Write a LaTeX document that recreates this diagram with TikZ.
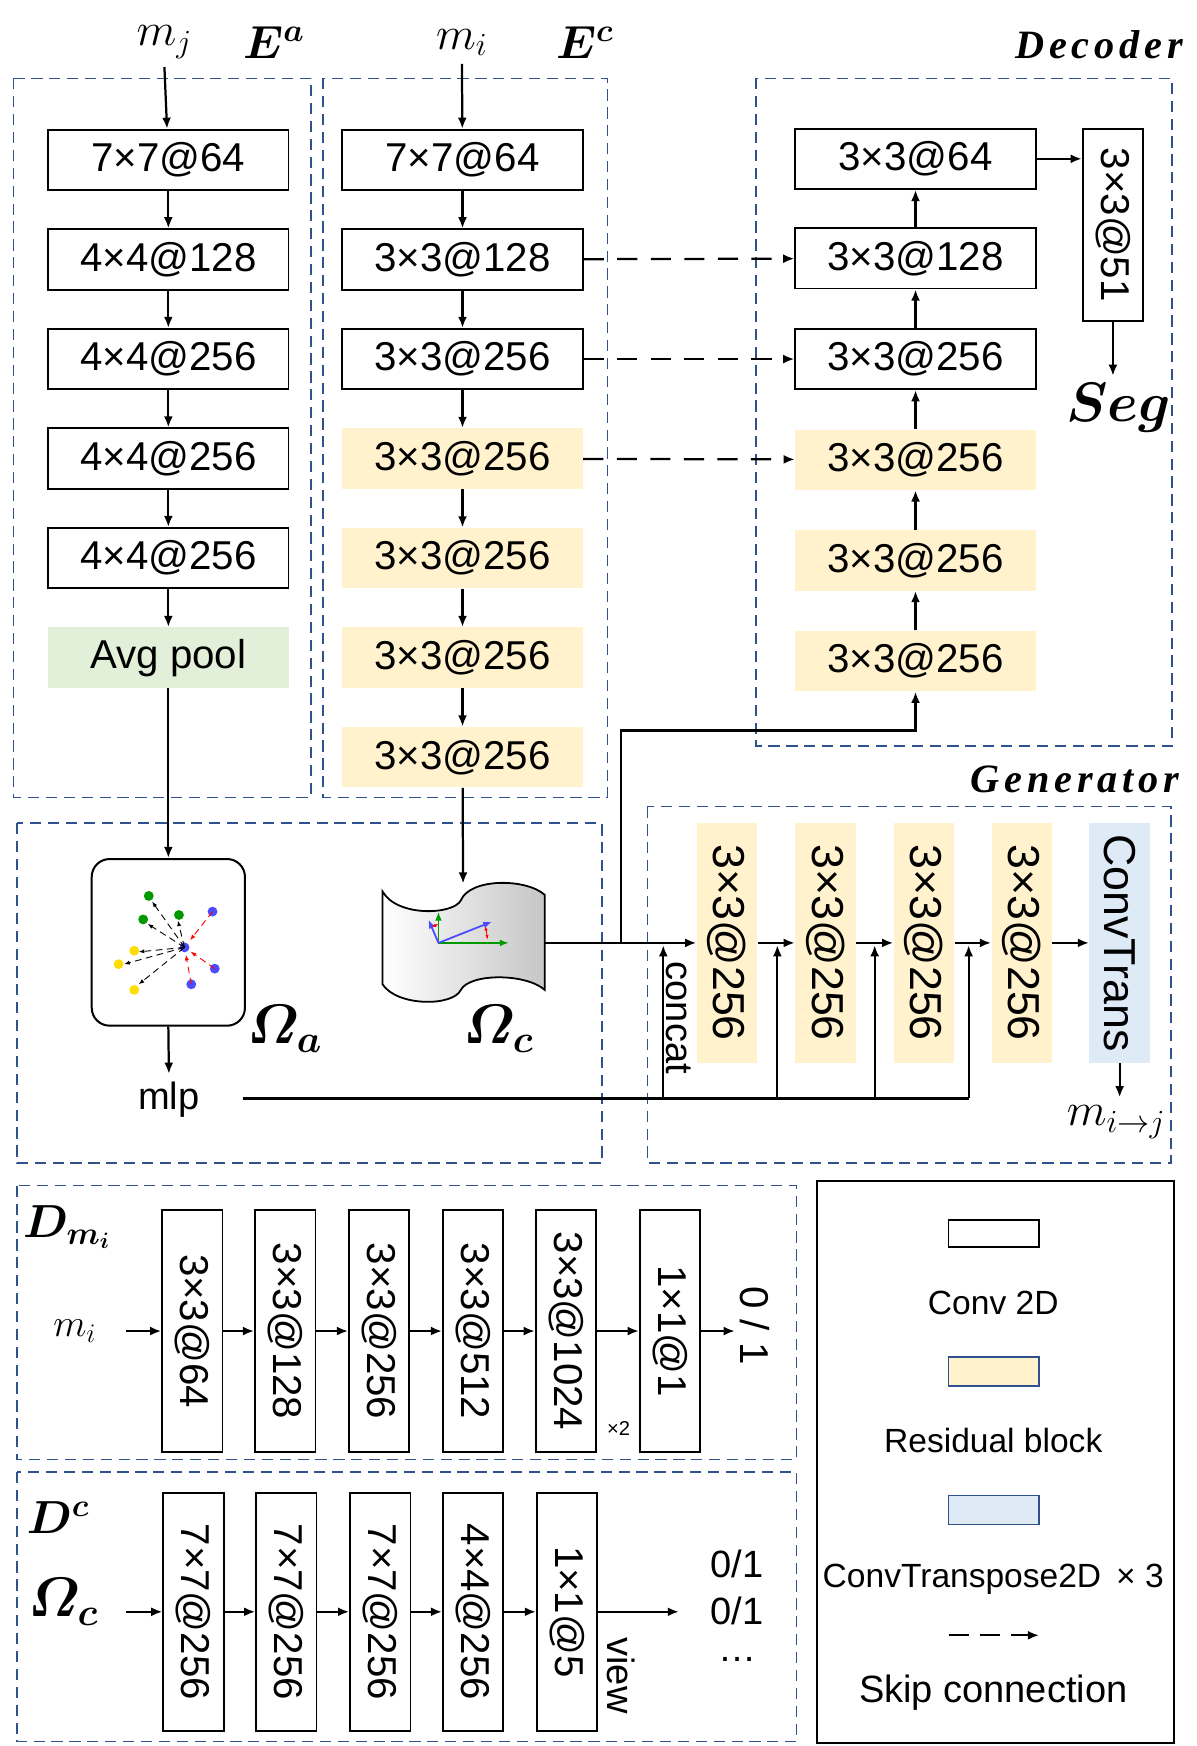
\documentclass[tikz,border=0pt]{standalone}
\usepackage{amsmath}
\usepackage{fontspec}
\usepackage{bm}
\setmainfont{Liberation Sans}
\newfontfamily\serifcap{Liberation Serif}[LetterSpace=12]
\usetikzlibrary{arrows.meta,positioning,calc}
\definecolor{frameblue}{RGB}{47,82,143}
\definecolor{resyellow}{RGB}{255,242,204}
\definecolor{poolgreen}{RGB}{226,240,217}
\definecolor{transblue}{RGB}{222,235,247}
\newcommand{\vtext}[1]{\rotatebox[origin=c]{-90}{#1}}
\tikzset{
  blk/.style={minimum width=107.5pt,minimum height=27pt,inner sep=0pt,font=\fontsize{18}{20}\selectfont},
  conv/.style={blk,draw,line width=0.8pt},
  res/.style={blk,fill=resyellow},
  pool/.style={blk,fill=poolgreen},
  vblk/.style={minimum width=27pt,minimum height=108pt,inner sep=0pt,font=\fontsize{18}{20}\selectfont},
  frame/.style={draw=frameblue,dashed,dash pattern=on 5pt off 3pt,line width=0.7pt},
  arr/.style={-{Latex[length=5pt,width=4pt]},line width=1pt},
  lbl/.style={font=\fontsize{20}{22}\selectfont},
  part/.style={font=\serifcap\fontsize{18}{20}\selectfont\bfseries\itshape,anchor=east,inner sep=0pt},
}
\begin{document}
\begin{tikzpicture}[x=0.5pt,y=-0.5pt]
\useasboundingbox (0,0) rectangle (1070,1561);

% frames
\draw[frame] (12,70) rectangle (278,713);
\draw[frame] (289,70) rectangle (543,713);
\draw[frame] (676,70) rectangle (1048,667);
\draw[frame] (15,736) rectangle (538,1040);
\draw[frame] (579,721) rectangle (1047,1040);
\draw[frame] (15,1060) rectangle (712,1305);
\draw[frame] (15,1316) rectangle (712,1557);
\draw[line width=0.9pt] (730,1056) rectangle (1050,1558);

% titles
\node[lbl] (mj) at (147,38) {$m_j$};
\node[lbl] (ea) at (245,38) {$\bm{E^a}$};
\node[lbl] (mi) at (413,38) {$m_i$};
\node[lbl] (ec) at (523,38) {$\bm{E^c}$};
\node[part] (dec) at (1058,40) {Decoder};
\node[part] (gen) at (1055,697) {Generator};

% appearance encoder
\node[conv] (a1) at (150.5,143) {7×7@64};
\node[conv] (a2) at (150.5,232) {4×4@128};
\node[conv] (a3) at (150.5,321) {4×4@256};
\node[conv] (a4) at (150.5,410) {4×4@256};
\node[conv] (a5) at (150.5,499) {4×4@256};
\node[pool] (a6) at (150.5,588) {Avg pool};
\draw[arr] (mj.south) -- (a1);
\foreach \i/\j in {1/2,2/3,3/4,4/5,5/6} \draw[arr] (a\i) -- (a\j);

% content encoder
\node[conv] (c1) at (413.5,143) {7×7@64};
\node[conv] (c2) at (413.5,232) {3×3@128};
\node[conv] (c3) at (413.5,321) {3×3@256};
\node[res] (c4) at (413.5,410) {3×3@256};
\node[res] (c5) at (413.5,499) {3×3@256};
\node[res] (c6) at (413.5,588) {3×3@256};
\node[res] (c7) at (413.5,677) {3×3@256};
\draw[arr] (mi.south) -- (c1);
\foreach \i/\j in {1/2,2/3,3/4,4/5,5/6,6/7} \draw[arr] (c\i) -- (c\j);

% decoder
\node[conv] (d1) at (818.5,142) {3×3@64};
\node[conv] (d2) at (818.5,231) {3×3@128};
\node[conv] (d3) at (818.5,321) {3×3@256};
\node[res] (d4) at (818.5,411) {3×3@256};
\node[res] (d5) at (818.5,501) {3×3@256};
\node[res] (d6) at (818.5,591) {3×3@256};
\foreach \i/\j in {2/1,3/2,4/3,5/4,6/5} \draw[arr] (d\i) -- (d\j);
\node[vblk,draw,line width=0.8pt,minimum height=86pt] (seg) at (995,201) {\vtext{3×3@51}};
\draw[arr] (d1.east) -- (d1.east -| seg.west);
\node[font=\fontsize{24}{26}\selectfont] (segt) at (1000,365) {$\bm{Seg}$};
\draw[arr] (seg.south) -- (seg.south |- segt.north);
\foreach \i in {2,3,4} \draw[arr,dashed,dash pattern=on 9pt off 6pt] (c\i) -- (d\i);

% latent spaces
\node[draw,line width=0.9pt,rounded corners=8pt,minimum width=68.5pt,minimum height=74.5pt] (oa) at (150.5,842.5) {};
\foreach \p/\c in {{133,801}/green!60!black,{128,822}/green!60!black,{160,818}/green!60!black,{190,815}/blue!70,{192,866}/blue!70,{171,880}/blue!70,{120,850}/yellow!80!orange,{106,862}/yellow!80!orange,{120,885}/yellow!80!orange}
  \fill[\c] (\p) circle (2.2pt);
\fill[blue!70] (165,847) circle (2.2pt);
\foreach \p in {{136,806},{132,826},{159,823},{124,851},{111,862},{124,880}}
  \draw[-{Latex[length=2.5pt]},densely dashed,line width=0.4pt] (165,847) -- (\p);
\foreach \p in {{190,815},{192,866},{171,880}}
  \draw[-{Latex[length=2.5pt]},densely dashed,red,line width=0.4pt] (\p) -- ($ (\p)!0.8!(165,847) $);
\node[lbl,font=\fontsize{24}{26}\selectfont] (oal) at (255,920) {$\bm{\varOmega_a}$};
\node[font=\fontsize{17}{20}\selectfont] (mlp) at (151,983) {mlp};
\draw[arr] (a6) -- (oa.north);
\draw[arr] (oa.south) -- (mlp.north);

\coordinate (ocn) at (414,790);
\shade[left color=white,right color=gray!45,draw,line width=0.8pt]
  (342,797) .. controls (355,820) and (405,818) .. (412,805) .. controls (420,785) and (470,785) .. (487,800)
  -- (487,885) .. controls (470,870) and (420,870) .. (412,885) .. controls (405,900) and (355,900) .. (342,880) -- cycle;
\draw[-{Latex[length=4pt]},green!60!black,line width=0.8pt] (392,843) -- (392,815);
\draw[-{Latex[length=4pt]},green!60!black,line width=0.8pt] (392,843) -- (455,843);
\draw[-{Latex[length=4pt]},blue!70,line width=0.8pt] (392,843) -- (383,822);
\draw[-{Latex[length=4pt]},blue!70,line width=0.8pt] (392,843) -- (440,824);
\draw[{Latex[length=2pt]}-{Latex[length=2pt]},red,densely dashed,line width=0.4pt] (386,829) -- (392,826);
\draw[{Latex[length=2pt]}-{Latex[length=2pt]},red,densely dashed,line width=0.4pt] (434,828) -- (436,840);
\node[font=\fontsize{24}{26}\selectfont] (ocl) at (446,920) {$\bm{\varOmega_c}$};
\draw[arr] (c7) -- (ocn);

% generator
\node[res,vblk,minimum height=107pt] (g1) at (650,843) {\fontsize{20}{22}\selectfont\vtext{3×3@256}};
\node[res,vblk,minimum height=107pt] (g2) at (738,843) {\fontsize{20}{22}\selectfont\vtext{3×3@256}};
\node[res,vblk,minimum height=107pt] (g3) at (826,843) {\fontsize{20}{22}\selectfont\vtext{3×3@256}};
\node[res,vblk,minimum height=107pt] (g4) at (913.5,843) {\fontsize{20}{22}\selectfont\vtext{3×3@256}};
\node[vblk,fill=transblue,minimum height=107pt] (g5) at (1001,843) {\fontsize{20}{22}\selectfont\vtext{ConvTrans}};
\coordinate (sr) at (487,843);
\coordinate (br) at (555,843);
\coordinate (bu) at (555,653);
\draw[arr] (sr) -- (g1);
\draw[arr] (br) -- (bu) -| (d6.south);
\foreach \i/\j in {1/2,2/3,3/4,4/5} \draw[arr] (g\i) -- (g\j);
\node[font=\fontsize{22}{24}\selectfont] (mij) at (998,1003) {$m_{i\to j}$};
\draw[arr] (g5.south) -- (g5.south |- mij.north);
\coordinate (ml) at (217,982);
\coordinate (mr) at (866,982);
\draw[line width=1pt] (ml) -- (mr);
\foreach \x in {593,695,782,866} \draw[arr] (\x,982) -- (\x,845);
\node[font=\fontsize{17}{20}\selectfont] (cc) at (607,910) {\vtext{concat}};

% discriminator on images
\node[font=\fontsize{20}{22}\selectfont] (dm) at (60,1097) {$\bm{D_{m_i}}$};
\node[font=\fontsize{17}{20}\selectfont] (dmi) at (67,1190) {$m_i$};
\foreach \n/\x/\t in {1/172/3×3@64,2/255/3×3@128,3/339/3×3@256,4/423/3×3@512,5/506/3×3@1024,6/599/1×1@1}
  \node[conv,vblk,minimum width=27pt,minimum height=108pt] (m\n) at (\x,1190) {\vtext{\t}};
\coordinate (min) at (113,1190);
\draw[arr] (min) -- (m1);
\foreach \i/\j in {1/2,2/3,3/4,4/5,5/6} \draw[arr] (m\i) -- (m\j);
\node[font=\fontsize{9}{10}\selectfont] (x2) at (553,1277) {×2};
\node[font=\fontsize{18}{20}\selectfont] (out1) at (675,1185) {\vtext{0 / 1}};
\coordinate (mout) at (657,1190);
\draw[arr] (m6) -- (mout);

% discriminator on content
\node[font=\fontsize{20}{22}\selectfont] (dcl) at (52,1357) {$\bm{D^c}$};
\node[font=\fontsize{24}{26}\selectfont] (ocin) at (57,1432) {$\bm{\varOmega_c}$};
\foreach \n/\x/\t in {1/173/7×7@256,2/256/7×7@256,3/340/7×7@256,4/423/4×4@256,5/507/1×1@5}
  \node[conv,vblk,minimum height=106.5pt] (k\n) at (\x,1441) {\vtext{\t}};
\coordinate (kin) at (113,1441);
\coordinate (kout) at (607,1441);
\draw[arr] (kin) -- (k1);
\foreach \i/\j in {1/2,2/3,3/4,4/5} \draw[arr] (k\i) -- (k\j);
\draw[arr] (k5) -- (kout);
\node[font=\fontsize{17}{20}\selectfont] (vw) at (555,1498) {\vtext{view}};
\node[font=\fontsize{17}{20}\selectfont] (o1) at (659,1398) {0/1};
\node[font=\fontsize{17}{20}\selectfont] (o2) at (659,1440) {0/1};
\node[font=\fontsize{17}{20}\selectfont] (o3) at (659,1484) {…};

% legend
\node[draw,line width=0.8pt,minimum width=40.5pt,minimum height=12pt,inner sep=0pt] (lc) at (888.5,1103) {};
\node[font=\fontsize{15}{18}\selectfont] (lct) at (888,1165) {Conv 2D};
\node[draw=frameblue,fill=resyellow,line width=0.8pt,minimum width=40.5pt,minimum height=13pt,inner sep=0pt] (lr) at (888.5,1226) {};
\node[font=\fontsize{15}{18}\selectfont] (lrt) at (888,1288) {Residual block};
\node[draw=frameblue,fill=transblue,line width=0.8pt,minimum width=40.5pt,minimum height=13pt,inner sep=0pt] (lt) at (888.5,1350) {};
\node[font=\fontsize{15}{18}\selectfont] (ltt) at (888,1412) {ConvTranspose2D \,× 3};
\coordinate (la) at (848,1462);
\coordinate (lb) at (929,1462);
\draw[arr,dashed,dash pattern=on 9pt off 5pt] (la) -- (lb);
\node[font=\fontsize{17}{20}\selectfont] (lst) at (888,1513) {Skip connection};
\end{tikzpicture}
\end{document}
